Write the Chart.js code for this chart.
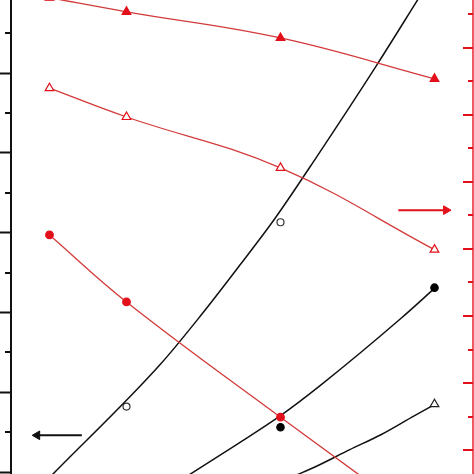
<!DOCTYPE html>
<html>
<head>
<meta charset="utf-8">
<script src="https://cdn.jsdelivr.net/npm/chart.js@4/dist/chart.umd.min.js"></script>
<style>
  html, body { margin: 0; padding: 0; background: #ffffff; overflow: hidden; }
  #c { display: block; }
</style>
</head>
<body>
<canvas id="c" width="474" height="474"></canvas>
<script>
// ---- data ----
const xValues = [1, 2, 4, 6];

// right (red) axis series
const redFilledTri = [6.75, 6.54, 6.15, 5.54];
const redOpenTri = [5.40, 4.97, 4.21, 2.99];
const redFilledCirc = [3.21, 2.21, 0.49, -1.19];

// left (black) axis measured points
const blackOpenCircX = [2, 4];
const blackOpenCirc = [0.82, 3.13];
const blackFilledCircX = [4, 6];
const blackFilledCirc = [0.56, 2.31];
const blackOpenTriX = [6];
const blackOpenTri = [0.85];

// left (black) axis fitted curves
const fitOpenCircX = [1.01, 2.44, 2.98, 3.47, 3.93, 4.47, 5.25, 5.79];
const fitOpenCircY = [-0.06, 1.35, 1.98, 2.59, 3.18, 3.95, 5.10, 5.93];
const fitFilledCircX = [2.79, 3.44, 3.99, 4.51, 5.57, 6.01];
const fitFilledCircY = [-0.05, 0.35, 0.70, 1.08, 1.93, 2.31];
const fitOpenTriX = [4.20, 4.44, 4.90, 5.31, 5.73, 6.01];
const fitOpenTriY = [-0.04, 0.06, 0.28, 0.47, 0.70, 0.85];

// arrows: [tail, head] positions
const leftArrowX = [1.42, 0.84];
const leftArrowY = [0.46, 0.46];
const rightArrowX = [5.53, 6.15];
const rightArrowY = [3.58, 3.58];

// tick values
const leftMajorTicks = [0, 1, 2, 3, 4, 5];
const leftMinorTicks = [0.5, 1.5, 2.5, 3.5, 4.5, 5.5];
const rightMajorTicks = [0, 1, 2, 3, 4, 5, 6];
const rightMinorTicks = [0.5, 1.5, 2.5, 3.5, 4.5, 5.5, 6.5];

// ---- helpers ----
const pts = (xs, ys) => xs.map((x, i) => ({ x: x, y: ys[i] }));

const RED = '#e3101b';
const RED_LINE = '#d33a3a';
const BLACK = '#111111';

const tickPlugin = {
  id: 'extraTicks',
  afterDraw(chart) {
    const ctx = chart.ctx;
    const ca = chart.chartArea;
    const yl = chart.scales.y;
    const yr = chart.scales.y2;
    ctx.save();
    ctx.lineWidth = 2;
    ctx.strokeStyle = BLACK;
    leftMinorTicks.forEach(v => {
      const p = Math.round(yl.getPixelForValue(v));
      ctx.beginPath();
      ctx.moveTo(ca.left - 6, p);
      ctx.lineTo(ca.left, p);
      ctx.stroke();
    });
    ctx.strokeStyle = RED;
    rightMajorTicks.forEach(v => {
      const p = Math.round(yr.getPixelForValue(v));
      ctx.beginPath();
      ctx.moveTo(ca.right - 10, p);
      ctx.lineTo(ca.right, p);
      ctx.stroke();
    });
    rightMinorTicks.forEach(v => {
      const p = Math.round(yr.getPixelForValue(v));
      ctx.beginPath();
      ctx.moveTo(ca.right - 5, p);
      ctx.lineTo(ca.right, p);
      ctx.stroke();
    });
    ctx.restore();
  }
};

const curve = (xs, ys, color, axis) => ({
  type: 'line',
  data: pts(xs, ys),
  yAxisID: axis,
  borderColor: color,
  borderWidth: 1.5,
  pointRadius: 0,
  cubicInterpolationMode: 'monotone',
  fill: false,
  order: 3
});

const markers = (xs, ys, style, r, fillColor, borderColor, axis) => ({
  type: 'line',
  data: pts(xs, ys),
  yAxisID: axis,
  showLine: false,
  pointStyle: style,
  pointRadius: r,
  pointBackgroundColor: fillColor,
  pointBorderColor: borderColor,
  pointBorderWidth: 1.2,
  order: 1
});

const redSeries = (ys, style, r, fillColor) => ({
  type: 'line',
  data: pts(xValues, ys),
  yAxisID: 'y2',
  borderColor: RED_LINE,
  borderWidth: 1.3,
  tension: 0.4,
  pointStyle: style,
  pointRadius: r,
  pointBackgroundColor: fillColor,
  pointBorderColor: RED,
  pointBorderWidth: 1.2,
  fill: false,
  order: 2
});

const arrow = (xs, ys, color, axis, rot) => ({
  type: 'line',
  data: pts(xs, ys),
  yAxisID: axis,
  borderColor: color,
  borderWidth: 2,
  pointStyle: 'triangle',
  pointRadius: [0, 5],
  pointRotation: rot,
  pointBackgroundColor: color,
  pointBorderColor: color,
  pointBorderWidth: 1,
  fill: false,
  order: 0
});

new Chart(document.getElementById('c'), {
  type: 'line',
  data: {
    datasets: [
      curve(fitOpenCircX, fitOpenCircY, BLACK, 'y'),
      curve(fitFilledCircX, fitFilledCircY, BLACK, 'y'),
      curve(fitOpenTriX, fitOpenTriY, BLACK, 'y'),
      markers(blackOpenCircX, blackOpenCirc, 'circle', 3.5, '#ffffff', '#333333', 'y'),
      markers(blackFilledCircX, blackFilledCirc, 'circle', 3.7, '#000000', '#000000', 'y'),
      markers(blackOpenTriX, blackOpenTri, 'triangle', 5, '#ffffff', '#222222', 'y'),
      redSeries(redFilledTri, 'triangle', 5, RED),
      redSeries(redOpenTri, 'triangle', 5, '#ffffff'),
      redSeries(redFilledCirc, 'circle', 3.8, RED),
      arrow(leftArrowX, leftArrowY, BLACK, 'y', -90),
      arrow(rightArrowX, rightArrowY, RED, 'y2', 90)
    ]
  },
  options: {
    responsive: false,
    animation: false,
    devicePixelRatio: 1,
    layout: { autoPadding: false, padding: { left: 0, right: 1, top: 0, bottom: 0 } },
    plugins: { legend: { display: false }, tooltip: { enabled: false } },
    scales: {
      x: {
        type: 'linear',
        display: false,
        min: 0.5,
        max: 6.5
      },
      y: {
        type: 'linear',
        position: 'left',
        min: -0.025,
        max: 5.915,
        afterBuildTicks: s => { s.ticks = leftMajorTicks.map(v => ({ value: v })); },
        ticks: { display: false },
        grid: { drawOnChartArea: false, drawTicks: true, tickLength: 11, tickWidth: 2, tickColor: BLACK, color: BLACK },
        border: { display: true, color: BLACK, width: 2 }
      },
      y2: {
        type: 'linear',
        position: 'right',
        min: -0.358,
        max: 6.716,
        afterBuildTicks: s => { s.ticks = rightMajorTicks.map(v => ({ value: v })); },
        ticks: { display: false },
        grid: { drawOnChartArea: false, drawTicks: false },
        border: { display: true, color: 'rgb(238,90,100)', width: 2 }
      }
    }
  },
  plugins: [tickPlugin]
});
</script>
</body>
</html>
